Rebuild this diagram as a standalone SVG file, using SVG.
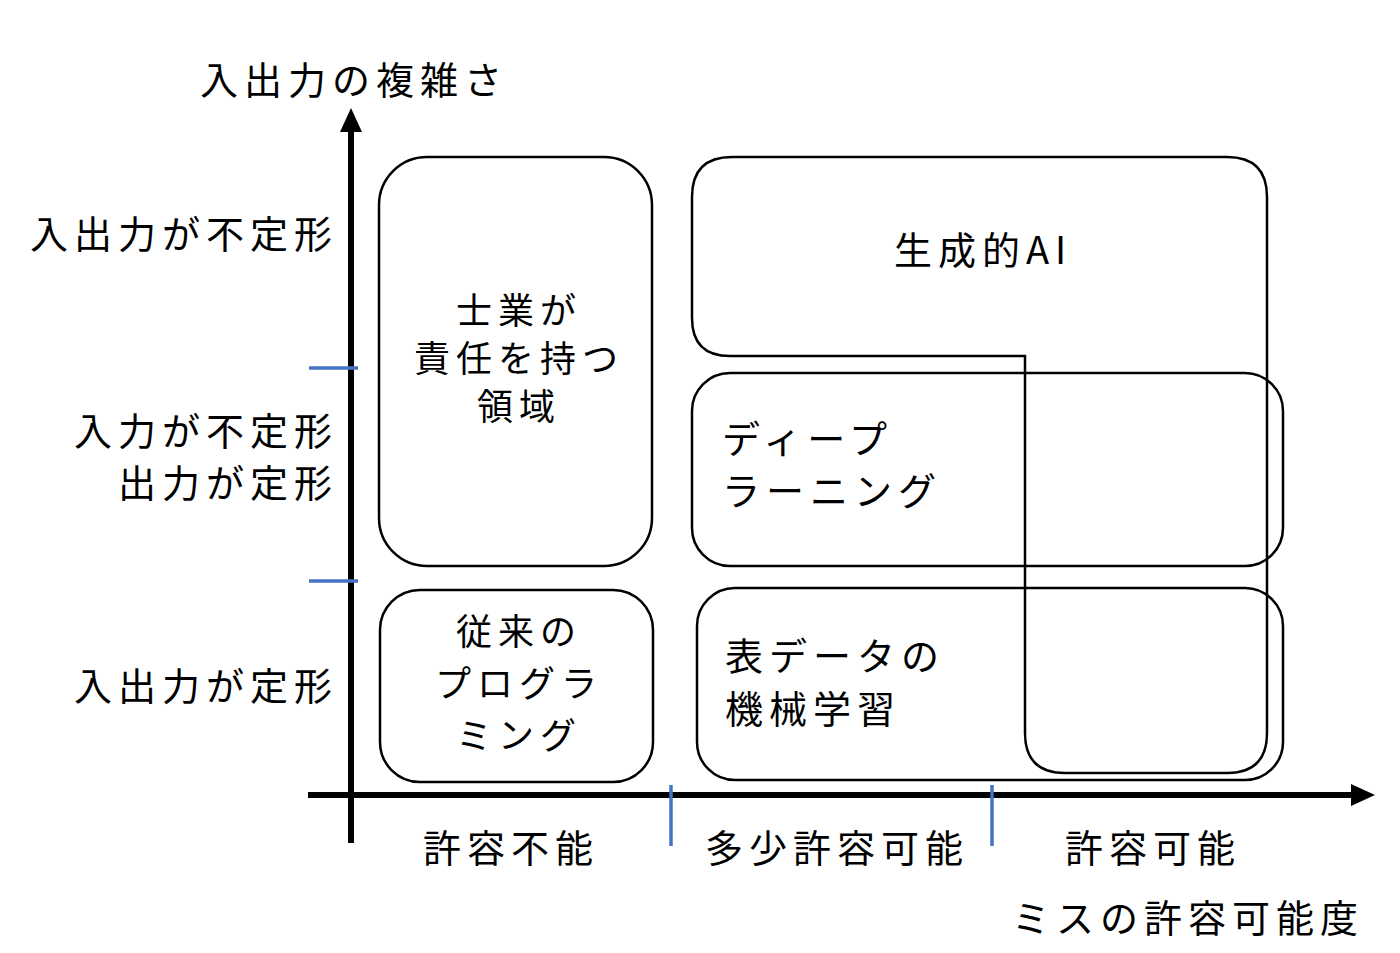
<svg xmlns="http://www.w3.org/2000/svg" width="1400" height="953" viewBox="0 0 1400 953">
<style>
text{font-family:"Noto Sans CJK JP","Noto Sans",sans-serif;font-size:38px;fill:#000;letter-spacing:6px}
.s{font-size:36px}
.b{fill:none;stroke:#000;stroke-width:2.5}
.ax{stroke:#000;stroke-width:6}
.tk{stroke:#4472c4;stroke-width:3.5}
</style>
<rect width="1400" height="953" fill="#fff"/>
<g id="axes">
<line class="ax" x1="351" y1="128" x2="351" y2="843"/>
<polygon points="351,108 340,132 362,132"/>
<line class="ax" x1="308" y1="795" x2="1355" y2="795"/>
<polygon points="1375,795 1351,784 1351,806"/>
<line class="tk" x1="309" y1="368" x2="358" y2="368"/>
<line class="tk" x1="309" y1="581" x2="358" y2="581"/>
<line class="tk" x1="671" y1="785" x2="671" y2="846"/>
<line class="tk" x1="992" y1="785" x2="992" y2="846"/>
</g>
<g id="labels">
<text x="200" y="94">入出力の複雑さ</text>
<text x="338" y="248" text-anchor="end">入出力が不定形</text>
<text x="338" y="445" text-anchor="end">入力が不定形</text>
<text x="338" y="497" text-anchor="end">出力が定形</text>
<text x="338" y="700" text-anchor="end">入出力が定形</text>
<text x="511" y="862" text-anchor="middle">許容不能</text>
<text x="837" y="862" text-anchor="middle">多少許容可能</text>
<text x="1153" y="862" text-anchor="middle">許容可能</text>
<text x="1364" y="932" text-anchor="end">ミスの許容可能度</text>
</g>
<g id="n1"><rect class="b" x="379" y="157" width="273" height="409" rx="48"/>
<text class="s" x="519" y="324" text-anchor="middle">士業が</text>
<text class="s" x="519" y="372" text-anchor="middle">責任を持つ</text>
<text class="s" x="519" y="420" text-anchor="middle">領域</text></g>
<g id="n2"><rect class="b" x="380" y="590" width="273" height="192" rx="40"/>
<text class="s" x="519" y="645" text-anchor="middle">従来の</text>
<text class="s" x="519" y="697" text-anchor="middle">プログラ</text>
<text class="s" x="519" y="749" text-anchor="middle">ミング</text></g>
<g id="n3"><path class="b" d="M732 157 H1227 Q1267 157 1267 197 V733 Q1267 773 1227 773 H1065 Q1025 773 1025 733 V356 H730 Q692 356 692 318 V197 Q692 157 732 157 Z"/>
<text x="983" y="264" text-anchor="middle">生成的AI</text></g>
<g id="n4"><rect class="b" x="692" y="373" width="591" height="193" rx="38"/>
<text x="722" y="453">ディープ</text>
<text x="722" y="505">ラーニング</text></g>
<g id="n5"><rect class="b" x="697" y="588" width="586" height="192" rx="38"/>
<text x="725" y="670">表データの</text>
<text x="725" y="723">機械学習</text></g>
</svg>
